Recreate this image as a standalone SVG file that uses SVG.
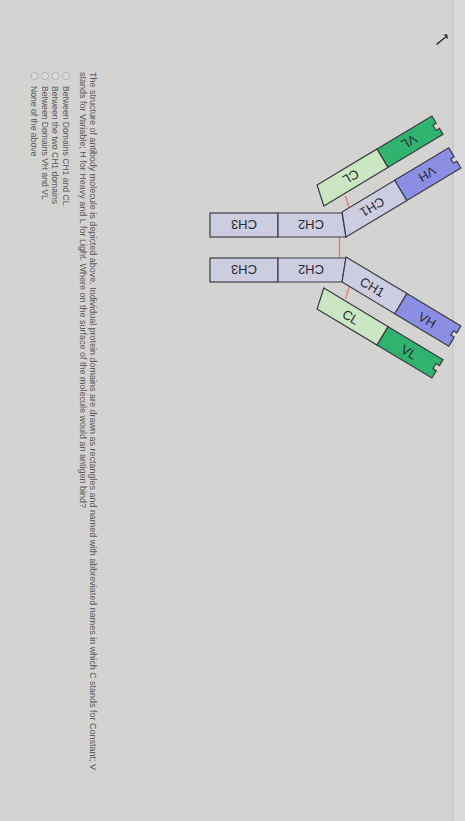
<svg xmlns="http://www.w3.org/2000/svg" width="465" height="821" viewBox="0 0 465 821">
<style>
.ch{fill:#cdcde2;stroke:#3c3c44;stroke-width:1.2}
.vh{fill:#8b8fe4;stroke:#3c3c44;stroke-width:1.2}
.cl{fill:#cbe6c2;stroke:#3c3c44;stroke-width:1.2}
.vl{fill:#2fb36f;stroke:#3c3c44;stroke-width:1.2}
.lb{font-family:"Liberation Sans",Arial,sans-serif;font-size:13px;fill:#2a2a33;text-anchor:middle}
.tx{font-family:"Liberation Sans",Arial,sans-serif;font-size:8.6px;fill:#5a5a5a}
.rd{stroke:#e77a78;stroke-width:1.3;fill:none}
.rb{fill:#dadad8;stroke:#a9a9a9;stroke-width:0.8}
</style>
<rect width="465" height="821" fill="#d3d3d1"/>
<rect x="453" y="0" width="12" height="821" fill="#d9dadb"/>
<line x1="453" y1="0" x2="453" y2="821" stroke="#bcbcbc" stroke-width="1"/>
<path d="M436,44 L446,36 L443,35 L447,34 L448,39 L446,37.5 L437,45 Z" fill="#222"/>

<g id="connectors">
<line class="rd" x1="339.5" y1="237" x2="339.5" y2="258"/>
<line class="rd" x1="349" y1="287" x2="345.5" y2="299"/>
<line class="rd" x1="349" y1="208" x2="345.5" y2="196"/>
</g>

<g id="upper-CH3"><rect class="ch" x="210" y="213" width="68" height="24"/><text class="lb" transform="translate(244,225) rotate(180)" dy="0.36em">CH3</text></g>
<g id="upper-CH2"><polygon class="ch" points="278,213 342,213 346,237 278,237"/><text class="lb" transform="translate(311,225) rotate(180)" dy="0.36em">CH2</text></g>
<g id="lower-CH3"><rect class="ch" x="210" y="258" width="68" height="24"/><text class="lb" transform="translate(244,270) rotate(180)" dy="0.36em">CH3</text></g>
<g id="lower-CH2"><polygon class="ch" points="278,258 346,258 342,282 278,282"/><text class="lb" transform="translate(311,270) rotate(180)" dy="0.36em">CH2</text></g>

<g transform="translate(346,257) rotate(31)">
<g id="lower-CH1"><polygon class="ch" points="0,0 71,0 71,23.5 9.5,23.5"/><text class="lb" x="38" y="12" dy="0.36em">CH1</text></g>
<g id="lower-VH"><polygon class="vh" points="71,0 134,0 134,8 130,8 130,13 134,13 134,23.5 71,23.5"/><text class="lb" x="102" y="12" dy="0.36em">VH</text></g>
<g id="lower-CL"><polygon class="cl" points="-3,38 72,38 72,59.5 2,59.5"/><text class="lb" x="35" y="49" dy="0.36em">CL</text></g>
<g id="lower-VL"><polygon class="vl" points="72,38 136,38 136,45 132,45 132,51 136,51 136,59.5 72,59.5"/><text class="lb" x="103" y="49" dy="0.36em">VL</text></g>
</g>

<g transform="translate(346,237) scale(1,-1) rotate(31)">
<g id="upper-CH1"><polygon class="ch" points="0,0 71,0 71,23.5 9.5,23.5"/><text class="lb" transform="translate(38,12) scale(-1,1)" dy="0.36em">CH1</text></g>
<g id="upper-VH"><polygon class="vh" points="71,0 134,0 134,8 130,8 130,13 134,13 134,23.5 71,23.5"/><text class="lb" transform="translate(102,12) scale(-1,1)" dy="0.36em">VH</text></g>
<g id="upper-CL"><polygon class="cl" points="-3,38 72,38 72,59.5 2,59.5"/><text class="lb" transform="translate(35,49) scale(-1,1)" dy="0.36em">CL</text></g>
<g id="upper-VL"><polygon class="vl" points="72,38 136,38 136,45 132,45 132,51 136,51 136,59.5 72,59.5"/><text class="lb" transform="translate(103,49) scale(-1,1)" dy="0.36em">VL</text></g>
</g>

<g id="question">
<text class="tx" transform="translate(89.5,72) rotate(90)" textLength="698" lengthAdjust="spacingAndGlyphs">The structure of antibody molecule is depicted above. Individual protein domains are drawn as rectangles and named with abbreviated names in which C stands for Constant; V</text>
<text class="tx" transform="translate(80,72) rotate(90)" textLength="436" lengthAdjust="spacingAndGlyphs">stands for Variable; H for Heavy and L for Light. Where on the surface of the molecule would an antigen bind?</text>
</g>
<g id="options">
<circle class="rb" cx="66" cy="76" r="3.6"/>
<text class="tx" transform="translate(62.5,86) rotate(90)">Between Domains CH1 and CL</text>
<circle class="rb" cx="55.5" cy="76" r="3.6"/>
<text class="tx" transform="translate(52,86) rotate(90)">Between the two CH1 domains</text>
<circle class="rb" cx="45" cy="76" r="3.6"/>
<text class="tx" transform="translate(41.5,86) rotate(90)">Between Domains VH and VL</text>
<circle class="rb" cx="34.5" cy="76" r="3.6"/>
<text class="tx" transform="translate(31,86) rotate(90)">None of the above</text>
</g>
</svg>
